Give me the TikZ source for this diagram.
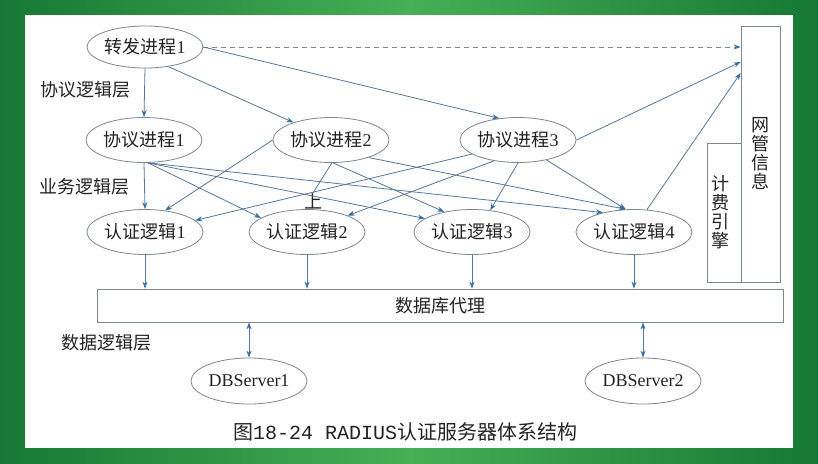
\documentclass[tikz,border=0pt]{standalone}
\usepackage{fontspec}
\setmainfont{Liberation Serif}
\newfontfamily\cjk{Noto Sans CJK SC}
\newfontfamily\capmono{Liberation Mono}
\usetikzlibrary{shapes.geometric,arrows.meta,calc}
\definecolor{gdark}{RGB}{22,120,52}
\definecolor{glight}{RGB}{70,175,85}
\definecolor{lineblue}{RGB}{85,120,155}
\definecolor{tipblue}{RGB}{55,110,170}
\definecolor{ellgray}{RGB}{125,135,145}
\definecolor{txt}{RGB}{35,35,35}
\tikzset{
 proc/.style={ellipse, draw=ellgray, line width=0.8pt, minimum width=116pt, minimum height=45pt, inner sep=0pt, text=txt, font=\fontsize{18}{20}\selectfont},
 lbl/.style={text=txt, font=\fontsize{18}{19}\selectfont\cjk, inner sep=0pt},
 conn/.style={draw=lineblue, line width=0.8pt, -{Stealth[length=7pt,width=5pt,color=tipblue]}},
 dbl/.style={draw=lineblue, line width=0.8pt, {Stealth[length=7pt,width=5pt,color=tipblue]}-{Stealth[length=7pt,width=5pt,color=tipblue]}},
 plain/.style={draw=lineblue, line width=0.8pt},
 boxx/.style={draw=ellgray, line width=0.8pt, inner sep=0pt, text=txt},
}
\begin{document}
\begin{tikzpicture}[x=1pt,y=-1pt]
\useasboundingbox (0,0) rectangle (818,463);
\shade[left color=gdark, right color=gdark, middle color=glight] (0,0) rectangle (818,463);
\fill[white] (25,15) rectangle (793,448);

% nodes
\node[proc, minimum height=42pt] (f) at (145,47) {{\cjk 转发进程}1};
\node[proc] (p1) at (144,140) {{\cjk 协议进程}1};
\node[proc] (p2) at (331,140) {{\cjk 协议进程}2};
\node[proc] (p3) at (518,140) {{\cjk 协议进程}3};
\node[proc] (a1) at (145,232) {{\cjk 认证逻辑}1};
\node[proc] (a2) at (307,232) {{\cjk 认证逻辑}2};
\node[proc] (a3) at (472,232) {{\cjk 认证逻辑}3};
\node[proc] (a4) at (634,232) {{\cjk 认证逻辑}4};
\node[boxx, minimum width=686pt, minimum height=33pt, font=\fontsize{18}{20}\selectfont\cjk] (db) at (440,305.5) {数据库代理};
\node[proc, minimum height=46pt] (s1) at (249,381) {DBServer1};
\node[proc, minimum height=46pt] (s2) at (643,381) {DBServer2};
\node[boxx, minimum width=39pt, minimum height=256pt, align=center, font=\fontsize{18}{19}\selectfont\cjk] (nm) at (760.5,154) {网\\管\\信\\息};
\node[lbl, align=center] (jf) at (720,212) {计\\费\\引\\擎};
\coordinate (jftl) at (707,143);
\coordinate (jfbl) at (707,282);
\draw[draw=ellgray, line width=0.8pt] (jftl -| nm.west) -- (jftl) -- (jfbl) -- (jfbl -| nm.west);

\node[lbl] (l1) at (85,90) {协议逻辑层};
\node[lbl] (l2) at (84,187) {业务逻辑层};
\node[lbl] (l3) at (106,343) {数据逻辑层};
\node[lbl] (up) at (313,201) {上};
\node[text=txt, inner sep=0pt, anchor=west] (cap) at (233,432) {{\fontsize{20}{22}\selectfont\cjk 图}{\fontsize{20}{22}\selectfont\capmono 18-24 RADIUS}{\fontsize{20}{22}\selectfont\cjk 认证服务器体系结构}};

% connectors
\draw[conn, draw=ellgray, dash pattern=on 5pt off 4pt] (f.east) -- (f.east -| nm.west);
\draw[conn] (f.east) -- (p3.131);
\draw[conn] (f.-40) -- (p2.155);
\draw[conn] (f.south) -- (p1.north);
\draw[conn] (p3.east) -- ([yshift=92pt]nm.west);
\draw[conn] (a4.60) -- ([yshift=81pt]nm.west);

\draw[conn] (p1.south) -- (a1.north);
\draw[conn] (p1.-80) -- (a2.163);
\draw[conn] (p1.-80) -- (a3.164);
\draw[conn] (p1.-80) -- (a4.148);
\draw[conn] (p2.180) -- (a1.47);
\draw[plain] (p2.-88) -- (up.north);
\draw[conn] (p2.-85) -- (a3.144);
\draw[conn] (p2.-25) -- (a4.110);
\draw[conn] (p3.197) -- (a1.13);
\draw[conn] (p3.221) -- (a2.22);
\draw[conn] (p3.south) -- (a3.50);
\draw[conn] (p3.-35) -- (a4.110);

\foreach \a in {a1,a2,a3,a4} {\draw[conn] (\a.south) -- (\a.south |- db.north);}
\draw[dbl] (s1.north |- db.south) -- (s1.north);
\draw[dbl] (s2.north |- db.south) -- (s2.north);
\end{tikzpicture}
\end{document}
